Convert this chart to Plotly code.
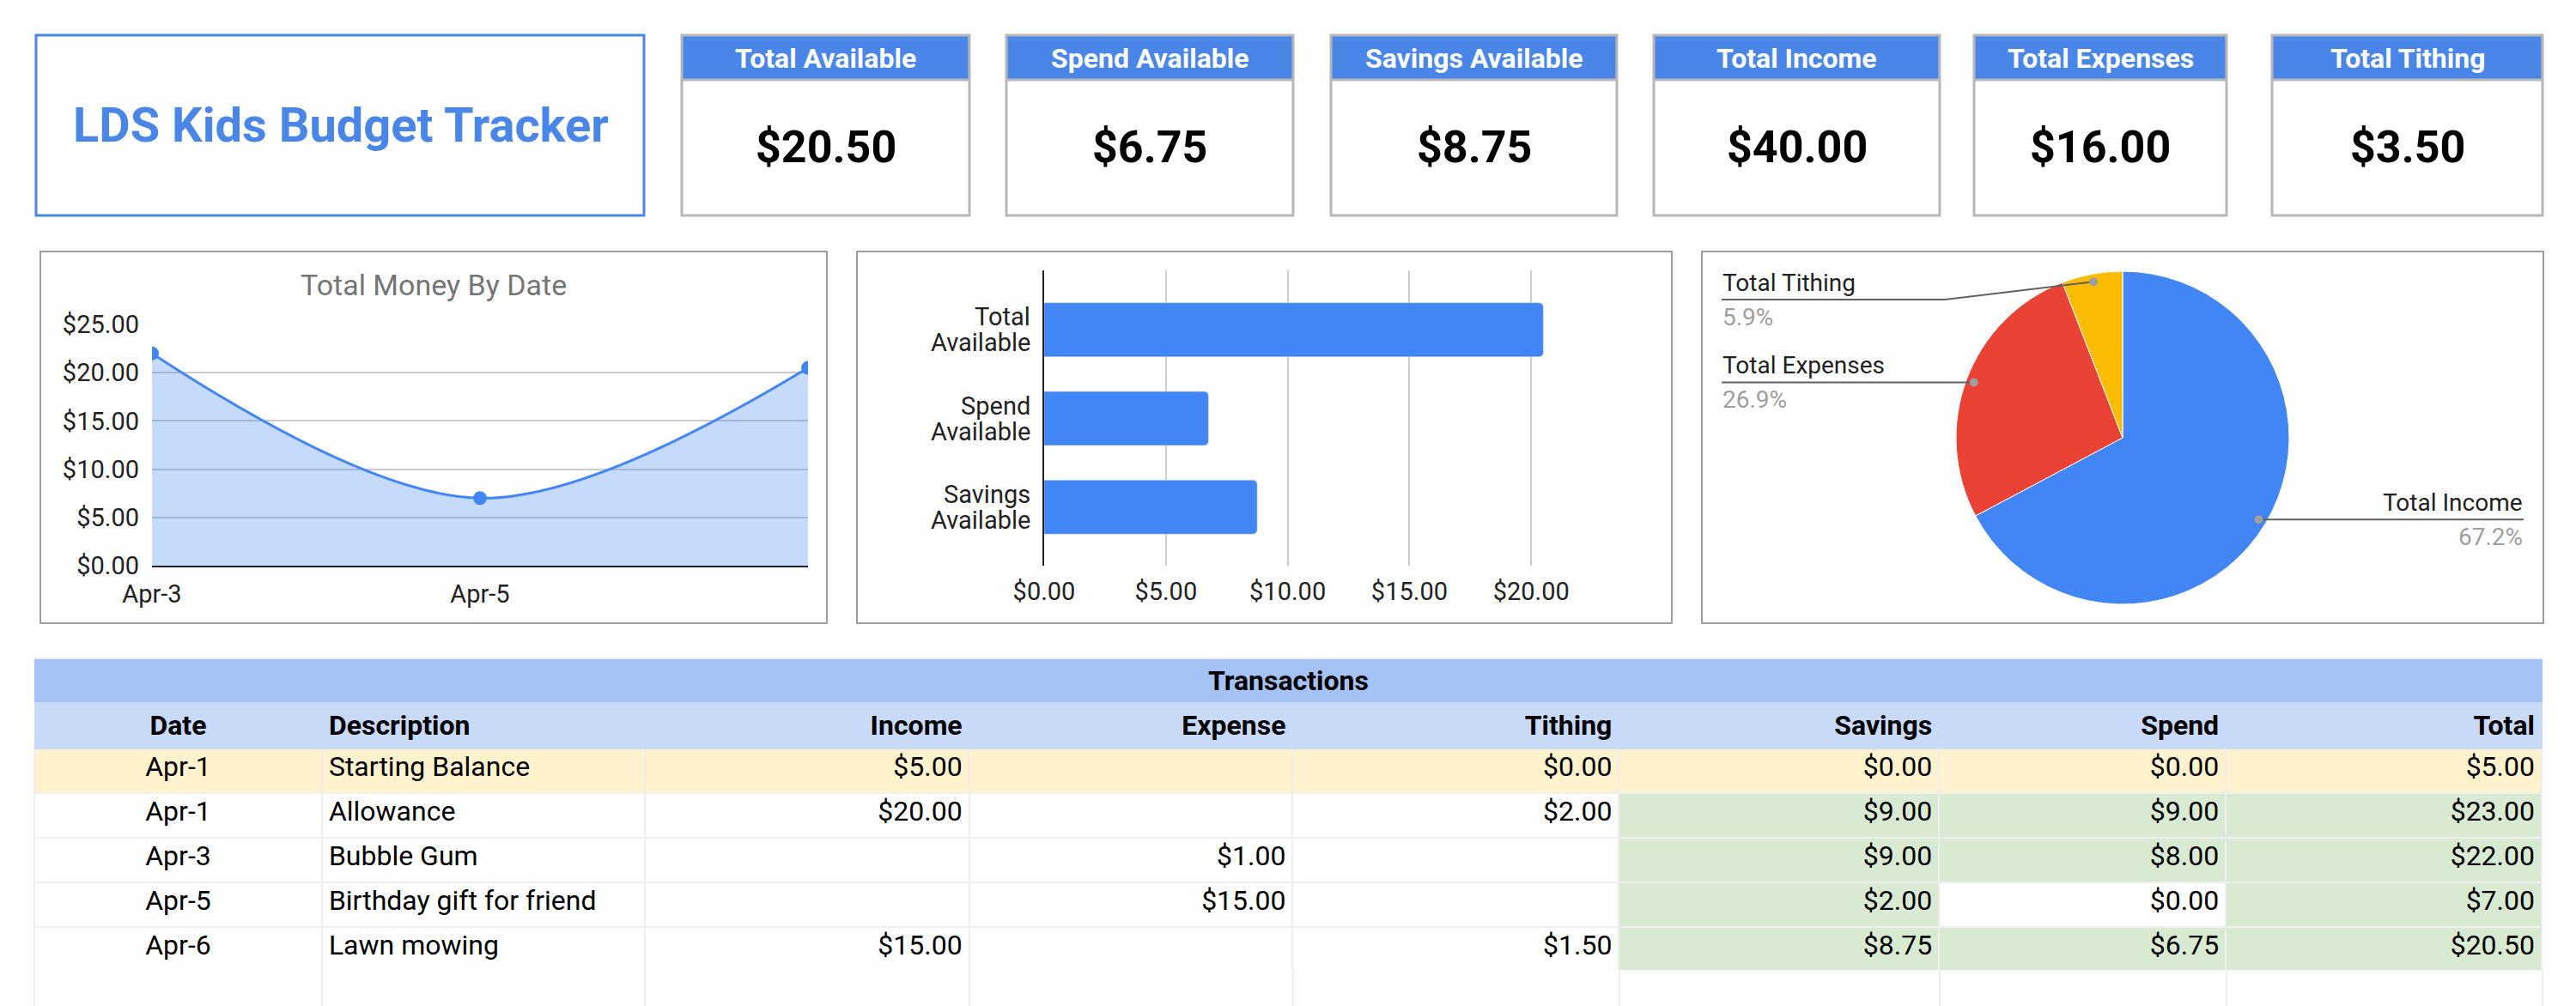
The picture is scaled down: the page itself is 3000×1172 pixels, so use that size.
import plotly.graph_objects as go
import math

# ---------------- DATA ----------------
title_text = "LDS Kids Budget Tracker"

kpi_labels = ["Total Available", "Spend Available", "Savings Available",
              "Total Income", "Total Expenses", "Total Tithing"]
kpi_values = [20.50, 6.75, 8.75, 40.00, 16.00, 3.50]

line_title = "Total Money By Date"
line_dates = ["Apr-3", "Apr-5", "Apr-6"]
line_totals = [22.00, 7.00, 20.50]
line_tick_dates = ["Apr-3", "Apr-5"]

bar_labels = ["Total Available", "Spend Available", "Savings Available"]
bar_values = [20.50, 6.75, 8.75]
bar_ticks = [0, 5, 10, 15, 20, 25]

pie_labels = ["Total Income", "Total Expenses", "Total Tithing"]
pie_values = [40.00, 16.00, 3.50]

table_title = "Transactions"
tbl_headers = ["Date", "Description", "Income", "Expense", "Tithing", "Savings", "Spend", "Total"]
tbl_date = ["Apr-1", "Apr-1", "Apr-3", "Apr-5", "Apr-6"]
tbl_desc = ["Starting Balance", "Allowance", "Bubble Gum", "Birthday gift for friend", "Lawn mowing"]
tbl_income = [5.00, 20.00, None, None, 15.00]
tbl_expense = [None, None, 1.00, 15.00, None]
tbl_tithing = [0.00, 2.00, None, None, 1.50]
tbl_savings = [0.00, 9.00, 9.00, 2.00, 8.75]
tbl_spend = [0.00, 9.00, 8.00, 0.00, 6.75]
tbl_total = [5.00, 23.00, 22.00, 7.00, 20.50]

# ---------------- LAYOUT HELPERS ----------------
W, H = 3000, 1172
OFF = 8  # page body margin in the browser
def px(x): return (x - OFF) / W
def py(y): return 1 - (y - OFF) / H

BLUE_HDR = "#4a86e8"
BLUE = "#4285f4"
FONT = "Roboto"

fig = go.Figure()
shapes = []
annotations = []

# Title box
shapes.append(dict(type="rect", xref="paper", yref="paper", x0=px(42), x1=px(750), y0=py(251), y1=py(41),
                   line=dict(color=BLUE_HDR, width=3), fillcolor="rgba(0,0,0,0)"))
annotations.append(dict(xref="paper", yref="paper", x=px(397), y=py(146), text="<b>%s</b>" % title_text,
                        showarrow=False, font=dict(family=FONT, size=56, color=BLUE_HDR),
                        xanchor="center", yanchor="middle"))

# KPI boxes
kpi_x0 = [794, 1172, 1550, 1926, 2299, 2646]
kpi_x1 = [1129, 1506, 1883, 2259, 2593, 2961]
for lab, val, a, b in zip(kpi_labels, kpi_values, kpi_x0, kpi_x1):
    shapes.append(dict(type="rect", xref="paper", yref="paper", x0=px(a), x1=px(b), y0=py(93), y1=py(41),
                       line=dict(width=0), fillcolor=BLUE_HDR, layer="below"))
    shapes.append(dict(type="line", xref="paper", yref="paper", x0=px(a), x1=px(b), y0=py(93), y1=py(93),
                       line=dict(color="#b7b7b7", width=3)))
    shapes.append(dict(type="rect", xref="paper", yref="paper", x0=px(a), x1=px(b), y0=py(251), y1=py(41),
                       line=dict(color="#b7b7b7", width=3), fillcolor="rgba(0,0,0,0)"))
    annotations.append(dict(xref="paper", yref="paper", x=px((a + b) / 2), y=py(68), text="<b>%s</b>" % lab,
                            showarrow=False, font=dict(family=FONT, size=32, color="white"),
                            xanchor="center", yanchor="middle"))
    annotations.append(dict(xref="paper", yref="paper", x=px((a + b) / 2), y=py(172), text="<b>$%.2f</b>" % val,
                            showarrow=False, font=dict(family=FONT, size=52, color="black"),
                            xanchor="center", yanchor="middle"))

# Chart container boxes
for a, b in [(47, 963), (998, 1947), (1982, 2962)]:
    shapes.append(dict(type="rect", xref="paper", yref="paper", x0=px(a), x1=px(b), y0=py(726), y1=py(293),
                       line=dict(color="#9e9e9e", width=2), fillcolor="rgba(0,0,0,0)"))

tick_font = dict(family=FONT, size=29, color="#222222")

# ---------------- LINE CHART ----------------
fig.add_trace(go.Scatter(x=line_dates, y=line_totals, mode="lines+markers",
                         line=dict(shape="spline", color=BLUE, width=3),
                         marker=dict(size=16, color=BLUE),
                         fill="tozeroy", fillcolor="rgba(66,133,244,0.30)",
                         xaxis="x", yaxis="y", showlegend=False))
annotations.append(dict(xref="paper", yref="paper", x=px(505), y=py(332), text=line_title, showarrow=False,
                        font=dict(family=FONT, size=34, color="#757575"), xanchor="center", yanchor="middle"))

# ---------------- BAR CHART ----------------
fig.add_trace(go.Bar(x=bar_values, y=bar_labels, orientation="h",
                     marker=dict(color=BLUE, cornerradius=5),
                     xaxis="x2", yaxis="y2", showlegend=False))
for lab in bar_labels:
    first, second = lab.split(" ", 1)
    for word, shift in [(first, 15), (second, -15)]:
        annotations.append(dict(xref="x2 domain", yref="y2", x=0, y=lab, text=word, showarrow=False,
                                xanchor="right", yanchor="middle", xshift=-14, yshift=shift,
                                font=tick_font))

# ---------------- PIE CHART ----------------
pie_colors = ["#4285f4", "#ea4335", "#fbbc04"]
pcx, pcy, pr = 2472, 510, 194
fig.add_trace(go.Pie(labels=pie_labels, values=pie_values, sort=False, direction="clockwise", rotation=0,
                     marker=dict(colors=pie_colors, line=dict(color="white", width=1)),
                     textinfo="none", showlegend=False,
                     domain=dict(x=[px(pcx - pr), px(pcx + pr)], y=[py(pcy + pr), py(pcy - pr)])))

tot = sum(pie_values)
cum = 0.0
left_x, right_x, elbow_left, min_line_y = 2005, 2939, 2265, 349
for lab, v in zip(pie_labels, pie_values):
    theta = math.radians(360 * (cum + v / 2) / tot)
    cum += v
    dx = pcx + 0.953 * pr * math.sin(theta)
    dy = pcy - 0.953 * pr * math.cos(theta)
    pct = "%.1f%%" % (100 * v / tot)
    if math.sin(theta) < 0:
        ly = max(dy, min_line_y)
        ex = min(dx, elbow_left)
        shapes.append(dict(type="line", xref="paper", yref="paper", x0=px(dx), y0=py(dy), x1=px(ex), y1=py(ly),
                           line=dict(color="#616161", width=2)))
        shapes.append(dict(type="line", xref="paper", yref="paper", x0=px(ex), y0=py(ly), x1=px(left_x), y1=py(ly),
                           line=dict(color="#616161", width=2)))
        tx, anc = left_x, "left"
    else:
        ly = dy
        shapes.append(dict(type="line", xref="paper", yref="paper", x0=px(dx), y0=py(dy), x1=px(right_x), y1=py(dy),
                           line=dict(color="#616161", width=2)))
        tx, anc = right_x, "right"
    shapes.append(dict(type="circle", xref="paper", yref="paper", x0=px(dx - 5), x1=px(dx + 5),
                       y0=py(dy + 5), y1=py(dy - 5), fillcolor="#9e9e9e", line=dict(width=0)))
    annotations.append(dict(xref="paper", yref="paper", x=px(tx), y=py(ly - 2), text=lab, showarrow=False,
                            font=dict(family=FONT, size=28, color="#222222"), xanchor=anc, yanchor="bottom",
                            borderpad=0))
    annotations.append(dict(xref="paper", yref="paper", x=px(tx), y=py(ly + 3), text=pct, showarrow=False,
                            font=dict(family=FONT, size=28, color="#9e9e9e"), xanchor=anc, yanchor="top",
                            borderpad=0))

# ---------------- TABLE ----------------
def fmt(v):
    return "" if v is None else "$%.2f" % v

tcols = [tbl_date, tbl_desc,
         [fmt(v) for v in tbl_income], [fmt(v) for v in tbl_expense], [fmt(v) for v in tbl_tithing],
         [fmt(v) for v in tbl_savings], [fmt(v) for v in tbl_spend], [fmt(v) for v in tbl_total]]
raw_cols = [None, None, tbl_income, tbl_expense, tbl_tithing, tbl_savings, tbl_spend, tbl_total]
YEL, GRN = "#fff2cc", "#d9ead3"
fills = []
for ci, col in enumerate(raw_cols):
    cf = []
    for ri in range(len(tbl_date)):
        if ri == 0:
            cf.append(YEL)
        elif ci >= 5 and col[ri] is not None and col[ri] > 0:
            cf.append(GRN)
        else:
            cf.append("white")
    fills.append(cf)

col_w = [335, 376, 378, 377, 380, 373, 334, 368]
tx0, tx1 = 40, 2961
t_top, t_hdr, row_h = 818, 52, 52
t_bot = t_top + t_hdr + row_h * len(tbl_date)
aligns = ["center", "left", "right", "right", "right", "right", "right", "right"]

fig.add_trace(go.Table(
    columnwidth=col_w,
    domain=dict(x=[px(tx0), px(tx1)], y=[py(t_bot), py(t_top)]),
    header=dict(values=["<b>%s</b>" % h for h in tbl_headers], fill=dict(color="#c9daf8"),
                line=dict(color="#c9daf8", width=1), align=aligns, height=t_hdr,
                font=dict(family=FONT, size=32, color="black")),
    cells=dict(values=tcols, fill=dict(color=fills), line=dict(color="#eeeeee", width=2),
               align=aligns, height=row_h, font=dict(family=FONT, size=32, color="black"))))

# Table title row
shapes.append(dict(type="rect", xref="paper", yref="paper", x0=px(tx0), x1=px(tx1), y0=py(t_top), y1=py(768),
                   fillcolor="#a4c2f4", line=dict(width=0), layer="below"))
shapes.append(dict(type="line", xref="paper", yref="paper", x0=px(tx0), x1=px(tx1), y0=py(767), y1=py(767),
                   line=dict(color="#e8eef8", width=2)))
annotations.append(dict(xref="paper", yref="paper", x=px((tx0 + tx1) / 2), y=py(793),
                        text="<b>%s</b>" % table_title, showarrow=False,
                        font=dict(family=FONT, size=32, color="black"), xanchor="center", yanchor="middle"))
# partially visible empty row below the table
xb = tx0
for w_ in [0] + col_w:
    xb += w_
    shapes.append(dict(type="line", xref="paper", yref="paper", x0=px(xb), x1=px(xb), y0=0, y1=py(t_bot),
                       line=dict(color="#eeeeee", width=2)))

# ---------------- AXES ----------------
fig.update_layout(
    width=W, height=H, margin=dict(l=0, r=0, t=0, b=0, autoexpand=False),
    paper_bgcolor="white", plot_bgcolor="white",
    font=dict(family=FONT),
    shapes=shapes, annotations=annotations,
    xaxis=dict(domain=[px(177), px(941)], type="category", range=[0, 2], tickvals=line_tick_dates,
               showgrid=False, showline=True, linecolor="#222222", linewidth=2, ticks="",
               tickfont=tick_font, ticklabelstandoff=6, anchor="y", fixedrange=True),
    yaxis=dict(domain=[py(659), py(378)], range=[0, 25], dtick=5, tickprefix="$", tickformat=".2f",
               gridcolor="#cccccc", gridwidth=2, zeroline=False, showline=False, ticks="",
               tickfont=tick_font, ticklabelstandoff=14, anchor="x"),
    xaxis2=dict(domain=[px(1216), px(1925)], range=[0, 25], tickvals=bar_ticks,
                ticktext=["$%.2f" % t for t in bar_ticks[:-1]] + [""],
                gridcolor="#cccccc", gridwidth=2, zeroline=False, showline=False, ticks="",
                tickfont=tick_font, ticklabelstandoff=10, anchor="y2"),
    yaxis2=dict(domain=[py(659), py(315)], type="category", categoryorder="array", categoryarray=bar_labels,
                range=[2.66, -0.67], showticklabels=False,
                showline=True, linecolor="#222222", linewidth=2, showgrid=False, ticks="",
                anchor="x2"),
    bargap=0.39,
)

fig.write_html("out.html")
